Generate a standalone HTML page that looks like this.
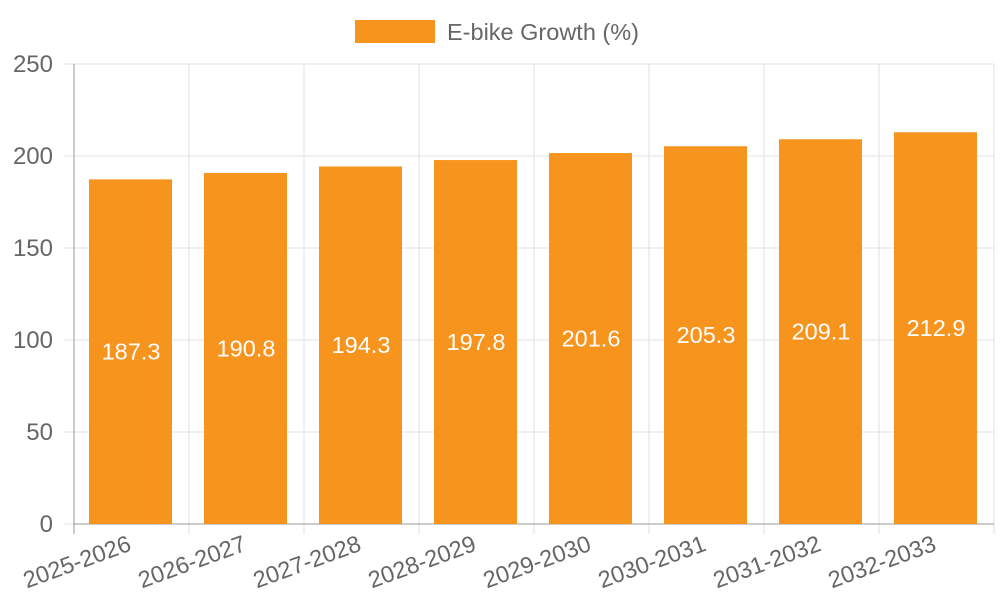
<!DOCTYPE html>
<html><head><meta charset="utf-8"><style>
html,body{margin:0;padding:0;background:#fff;}
svg{display:block;font-family:"Liberation Sans",sans-serif;}
</style></head><body>
<svg id="chart" width="1000" height="600">
<g id="legend">
<rect x="355" y="20" width="80" height="23" fill="#f7941e"></rect>
<text x="447" y="40" font-size="23.5" fill="#666">E-bike Growth (%)</text>
</g>
<g id="grid"></g><g id="bars"></g><g id="labels"></g>
</svg>
<script>
const categories=["2025-2026","2026-2027","2027-2028","2028-2029","2029-2030","2030-2031","2031-2032","2032-2033"];
const values=[187.3,190.8,194.3,197.8,201.6,205.3,209.1,212.9];
const yTicks=[0,50,100,150,200,250];
const NS="http://www.w3.org/2000/svg";
const L=74,R=994,T=64,B=524,yMax=250;
const y=v=>B-(v/yMax)*(B-T);
const bw=(R-L)/categories.length;
const x=i=>L+i*bw;
function mk(tag,attrs,parent,text){const e=document.createElementNS(NS,tag);for(const k in attrs)e.setAttribute(k,attrs[k]);if(text!=null)e.textContent=text;parent.appendChild(e);return e;}
const grid=document.getElementById('grid'),bars=document.getElementById('bars'),labels=document.getElementById('labels');
yTicks.forEach(t=>{
 const g=mk('line',{x1:64,x2:R,y1:y(t),y2:y(t),stroke:'#e0e0e0','stroke-width':1},grid);
 
 
 const tl=mk('text',{x:53,y:y(t)+8,'text-anchor':'end','font-size':24,fill:'#666'},grid,String(t));
 
 
});
for(let i=0;i<=categories.length;i++){
 const g=mk('line',{x1:x(i),x2:x(i),y1:T,y2:B+10,stroke:i==0?'#999':'#e0e0e0','stroke-width':1},grid);
 
 
}
const ax=mk('line',{x1:L,x2:R,y1:B,y2:B,stroke:'#999'},grid);


categories.forEach((c,i)=>{
 const bx=x(i)+15,top=y(values[i]);
 const r=mk('rect',{x:bx,y:top,width:bw-32,height:B-top,fill:'#f7941e'},bars);
 
 
 const v=mk('text',{x:x(i)+bw/2-0.5,y:(top+B)/2+8,'text-anchor':'middle','font-size':23.5,fill:'#fff'},labels,values[i].toFixed(1));
 
 
 const cx=x(i)+bw/2+1,cy=B+26;
 const t=mk('text',{x:cx,y:cy,'text-anchor':'end','font-size':23.5,fill:'#666',transform:`rotate(-20 ${cx} ${cy})`},labels,c);
 
 
});
</script>
</body></html>
